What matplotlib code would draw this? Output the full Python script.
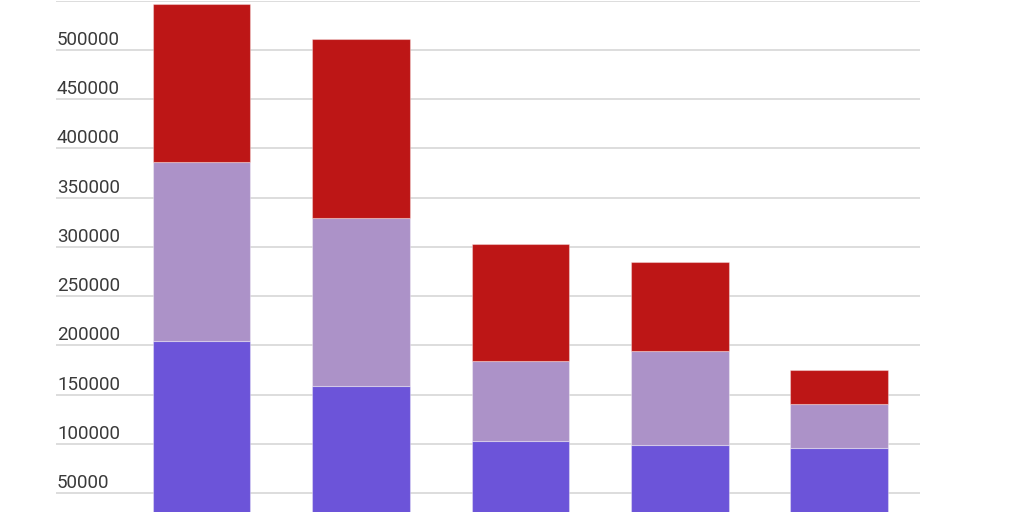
import matplotlib
matplotlib.use("Agg")
import matplotlib.pyplot as plt
import numpy as np

categories = ["A", "B", "C", "D", "E"]
series_blue = [205000, 158500, 103500, 99300, 96000]
series_purple = [181000, 170500, 80500, 94700, 45000]
series_red = [160000, 181500, 118500, 91000, 34000]
tick_values = [0, 50000, 100000, 150000, 200000, 250000, 300000, 350000,
               400000, 450000, 500000, 550000]
tick_labels = ["50000", "100000", "150000", "200000", "250000", "300000",
               "350000", "400000", "450000", "500000"]

colors = ["#6C54D9", "#AC92C8", "#BD1616"]

fig = plt.figure(figsize=(10.24, 5.12), dpi=100)
W, H = 1024, 512
left_px, right_px = 56, 920
top_px, zero_px = 0.5, 542.6
ax = fig.add_axes([left_px / W, (H - zero_px) / H,
                   (right_px - left_px) / W, (zero_px - top_px) / H])

x = np.arange(len(categories))
width = 0.613
edge = (1, 1, 1, 0.35)
b1 = np.array(series_blue)
b2 = np.array(series_purple)
b3 = np.array(series_red)
ax.bar(x, b1, width, color=colors[0], edgecolor=edge, linewidth=0.8, zorder=3)
ax.bar(x, b2, width, bottom=b1, color=colors[1], edgecolor=edge, linewidth=0.8, zorder=3)
ax.bar(x, b3, width, bottom=b1 + b2, color=colors[2], edgecolor=edge, linewidth=0.8, zorder=3)

ax.set_xlim(-0.9125, 4.506)
ax.set_ylim(0, 550000)
ax.set_yticks(tick_values)
ax.yaxis.grid(True, color="#DDDDDD", linewidth=1.4, zorder=0)
ax.tick_params(left=False, bottom=False, labelleft=False, labelbottom=False)
for s in ax.spines.values():
    s.set_visible(False)
ax.set_xticks([])

for lab in tick_labels:
    v = float(lab)
    ax.annotate(lab, xy=(0, v), xycoords=ax.get_yaxis_transform(),
                xytext=(1, 5), textcoords="offset pixels",
                ha="left", va="baseline", fontsize=13.5,
                family="Roboto", color="#3A3A3A", annotation_clip=False)

fig.savefig("out.png", dpi=100)
